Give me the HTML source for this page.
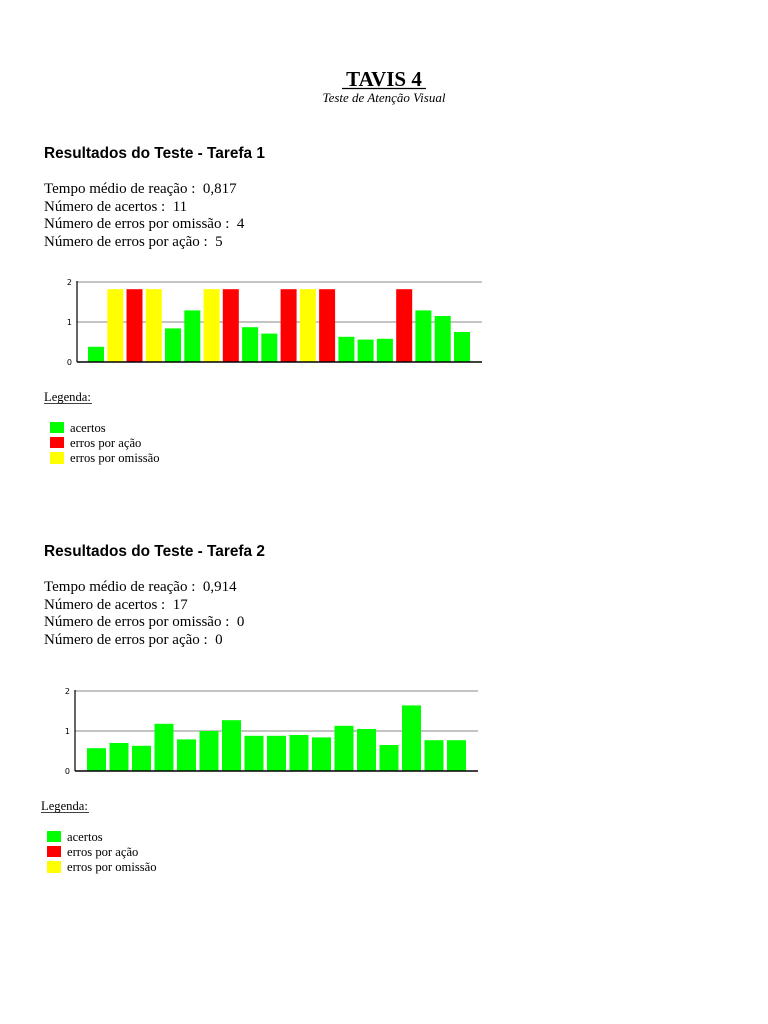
<!DOCTYPE html>
<html><head><meta charset="utf-8"><style>
html,body{margin:0;padding:0;background:#fff;width:768px;height:1024px;overflow:hidden}
svg{display:block}
text{white-space:pre}
.s{font-family:"Liberation Serif",serif}
.h{font-family:"Liberation Sans",sans-serif;font-weight:bold;font-size:15.4px}
.b{font-family:"Liberation Serif",serif;font-size:15px}
.l{font-family:"Liberation Serif",serif;font-size:12.6px}
.t{font-family:"DejaVu Sans","Liberation Sans",sans-serif;font-size:8px}
</style></head><body>
<svg width="768" height="1024" xmlns="http://www.w3.org/2000/svg" xml:space="preserve">
<text class="s" x="384" y="86" font-size="21" font-weight="bold" text-anchor="middle">TAVIS 4</text>
<line x1="342" y1="88.5" x2="426" y2="88.5" stroke="#000" stroke-width="1.2"/>
<text class="s" x="384" y="102" font-size="13" font-style="italic" text-anchor="middle">Teste de Atenção Visual</text>

<text class="h" x="44" y="158">Resultados do Teste - Tarefa 1</text>
<text class="b" x="44" y="193">Tempo médio de reação :  0,817</text>
<text class="b" x="44" y="211">Número de acertos :  11</text>
<text class="b" x="44" y="228">Número de erros por omissão :  4</text>
<text class="b" x="44" y="246">Número de erros por ação :  5</text>

<g id="c1">
<line x1="77" y1="282" x2="482" y2="282" stroke="#888"/>
<line x1="77" y1="322" x2="482" y2="322" stroke="#888"/>
<g>
<rect x="88" y="346.8" width="16" height="15.2" fill="#00ff00"/>
<rect x="107.3" y="289.2" width="16" height="72.8" fill="#ffff00"/>
<rect x="126.5" y="289.2" width="16" height="72.8" fill="#ff0000"/>
<rect x="145.8" y="289.2" width="16" height="72.8" fill="#ffff00"/>
<rect x="165" y="328.4" width="16" height="33.6" fill="#00ff00"/>
<rect x="184.3" y="310.4" width="16" height="51.6" fill="#00ff00"/>
<rect x="203.6" y="289.2" width="16" height="72.8" fill="#ffff00"/>
<rect x="222.8" y="289.2" width="16" height="72.8" fill="#ff0000"/>
<rect x="242.1" y="327.2" width="16" height="34.8" fill="#00ff00"/>
<rect x="261.3" y="333.6" width="16" height="28.4" fill="#00ff00"/>
<rect x="280.6" y="289.2" width="16" height="72.8" fill="#ff0000"/>
<rect x="299.9" y="289.2" width="16" height="72.8" fill="#ffff00"/>
<rect x="319.1" y="289.2" width="16" height="72.8" fill="#ff0000"/>
<rect x="338.4" y="336.8" width="16" height="25.2" fill="#00ff00"/>
<rect x="357.6" y="339.6" width="16" height="22.4" fill="#00ff00"/>
<rect x="376.9" y="338.8" width="16" height="23.2" fill="#00ff00"/>
<rect x="396.2" y="289.2" width="16" height="72.8" fill="#ff0000"/>
<rect x="415.4" y="310.4" width="16" height="51.6" fill="#00ff00"/>
<rect x="434.7" y="316" width="16" height="46" fill="#00ff00"/>
<rect x="454" y="332" width="16" height="30" fill="#00ff00"/>
</g>
<line x1="77" y1="362" x2="482" y2="362" stroke="#000" stroke-width="1.5"/>
<line x1="77" y1="281" x2="77" y2="362" stroke="#000" stroke-width="1.2"/>
<text class="t" x="72" y="285" text-anchor="end">2</text>
<text class="t" x="72" y="325" text-anchor="end">1</text>
<text class="t" x="72" y="365" text-anchor="end">0</text>
</g>

<text class="l" x="44" y="401">Legenda:</text>
<line x1="44" y1="403.5" x2="92" y2="403.5" stroke="#000" stroke-width="0.8"/>
<rect x="50" y="422" width="14" height="11" fill="#00ff00"/>
<rect x="50" y="437" width="14" height="11" fill="#ff0000"/>
<rect x="50" y="452" width="14" height="12" fill="#ffff00"/>
<text class="l" x="70" y="432">acertos</text>
<text class="l" x="70" y="447">erros por ação</text>
<text class="l" x="70" y="462">erros por omissão</text>

<text class="h" x="44" y="556">Resultados do Teste - Tarefa 2</text>
<text class="b" x="44" y="591">Tempo médio de reação :  0,914</text>
<text class="b" x="44" y="609">Número de acertos :  17</text>
<text class="b" x="44" y="626">Número de erros por omissão :  0</text>
<text class="b" x="44" y="644">Número de erros por ação :  0</text>

<g>
<line x1="75" y1="691" x2="478" y2="691" stroke="#888"/>
<line x1="75" y1="731" x2="478" y2="731" stroke="#888"/>
<g fill="#00ff00">
<rect x="87" y="748.2" width="19" height="22.8"/>
<rect x="109.5" y="743" width="19" height="28"/>
<rect x="132" y="745.8" width="19" height="25.2"/>
<rect x="154.5" y="723.8" width="19" height="47.2"/>
<rect x="177" y="739.4" width="19" height="31.6"/>
<rect x="199.5" y="731" width="19" height="40"/>
<rect x="222" y="720.2" width="19" height="50.8"/>
<rect x="244.5" y="735.8" width="19" height="35.2"/>
<rect x="267" y="735.8" width="19" height="35.2"/>
<rect x="289.5" y="735" width="19" height="36"/>
<rect x="312" y="737.4" width="19" height="33.6"/>
<rect x="334.5" y="725.8" width="19" height="45.2"/>
<rect x="357" y="729" width="19" height="42"/>
<rect x="379.5" y="745" width="19" height="26"/>
<rect x="402" y="705.4" width="19" height="65.6"/>
<rect x="424.5" y="740.2" width="19" height="30.8"/>
<rect x="447" y="740.2" width="19" height="30.8"/>
</g>
<line x1="75" y1="771" x2="478" y2="771" stroke="#000" stroke-width="1.5"/>
<line x1="75" y1="690" x2="75" y2="771" stroke="#000" stroke-width="1.2"/>
<text class="t" x="70" y="694" text-anchor="end">2</text>
<text class="t" x="70" y="734" text-anchor="end">1</text>
<text class="t" x="70" y="774" text-anchor="end">0</text>
</g>

<text class="l" x="41" y="810">Legenda:</text>
<line x1="41" y1="812.5" x2="89" y2="812.5" stroke="#000" stroke-width="0.8"/>
<rect x="47" y="831" width="14" height="11" fill="#00ff00"/>
<rect x="47" y="846" width="14" height="11" fill="#ff0000"/>
<rect x="47" y="861" width="14" height="12" fill="#ffff00"/>
<text class="l" x="67" y="841">acertos</text>
<text class="l" x="67" y="856">erros por ação</text>
<text class="l" x="67" y="871">erros por omissão</text>
</svg>
</body></html>
